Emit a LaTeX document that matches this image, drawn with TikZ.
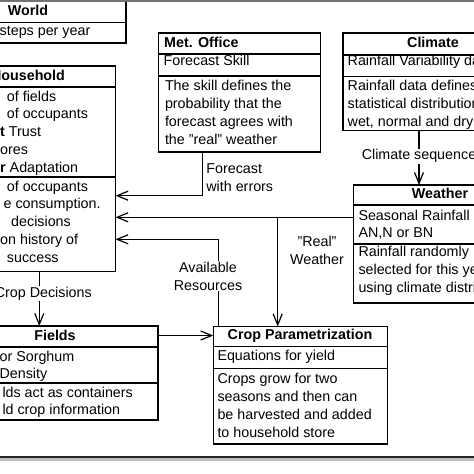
\documentclass[tikz,border=0pt]{standalone}
\usepackage{fontspec}
\setmainfont{Liberation Sans}
\usetikzlibrary{arrows.meta}

\begin{document}
\begin{tikzpicture}[x=1pt, y=-1pt,
  every node/.style={font=\fontsize{14.3}{17.8}\selectfont},
  box/.style={draw, line width=1.2pt, anchor=north west, inner sep=0pt, outer sep=0pt},
  ttl/.style={anchor=base, inner sep=0pt, font=\fontsize{14.3}{17.8}\selectfont\bfseries},
  txt/.style={anchor=north west, align=left, inner sep=0pt},
  lbl/.style={fill=white, inner sep=1pt, align=center},
  arr/.style={line width=1.2pt, -{Straight Barb[length=11pt, width=9pt]}}]
\useasboundingbox (0,0) rectangle (474,474);
\clip (0,0) rectangle (474,474);

\node[box, minimum width=196pt, minimum height=42pt] (world) at (-70,1) {};
\node[box, minimum width=162pt, minimum height=119pt] (met) at (158.3,33) {};
\node[box, minimum width=180pt, minimum height=97.7pt] (climate) at (343,33) {};
\node[box, minimum width=174pt, minimum height=118pt] (weather) at (353.5,185) {};
\node[box, minimum width=175.5pt, minimum height=205.3pt] (house) at (-60,66) {};
\node[box, minimum width=206pt, minimum height=94pt] (fields) at (-48,326) {};
\node[box, minimum width=174pt, minimum height=117.5pt] (crop) at (213.3,326.5) {};

\draw[line width=1.2pt] (-70,22.7) -- (126,22.7);
\draw[line width=1.2pt] (158.3,54) -- (320.3,54);
\draw[line width=1.2pt] (158.3,76) -- (320.3,76);
\draw[line width=1.2pt] (343,55) -- (523,55);
\draw[line width=1.2pt] (343,76.7) -- (523,76.7);
\draw[line width=1.2pt] (353.5,205) -- (527.5,205);
\draw[line width=1.2pt] (353.5,244) -- (527.5,244);
\draw[line width=1.2pt] (-60,87) -- (115.5,87);
\draw[line width=1.2pt] (-60,177) -- (115.5,177);
\draw[line width=1.2pt] (-48,347) -- (158,347);
\draw[line width=1.2pt] (-48,383) -- (158,383);
\draw[line width=1.2pt] (213.3,346.5) -- (387.3,346.5);
\draw[line width=1.2pt] (213.3,368.5) -- (387.3,368.5);

\node[ttl] (world-t) at (28,15) {World};
\node[txt] (world-a) at (-0.5,25.6) {steps per year};

\node[ttl, anchor=base west] (met-t) at (164,47) {Met. Office};
\node[txt] (met-a) at (163.5,54.9) {Forecast Skill};
\node[txt] (met-b) at (164.8,80.3) {The skill defines the\\probability that the\\forecast agrees with\\the "real" weather};

\node[ttl] (climate-t) at (433,47) {Climate};
\node[txt] (climate-a) at (347.5,55.1) {Rainfall Variability data};
\node[txt] (climate-b) at (347.5,80.3) {Rainfall data defines\\statistical distribution\\wet, normal and dry};

\node[ttl] (weather-t) at (440,198.5) {Weather};
\node[txt] (weather-a) at (358.3,209.6) {Seasonal Rainfall\\AN,N or BN};
\node[txt] (weather-b) at (358.3,246.3) {Rainfall randomly\\selected for this year\\using climate distribution};

\node[ttl] (house-t) at (28,80.3) {Household};
\node[txt] (house-a) at (0,90.6) {\hspace*{6.7pt}of fields\\\hspace*{6.7pt}of occupants\\\textbf{t} Trust\\ores\\\textbf{r} Adaptation};
\node[txt] (house-b) at (0,180.6) {\hspace*{6.7pt}of occupants\\\hspace*{3.4pt}e consumption.\\\hspace*{11pt}decisions\\on history of\\\hspace*{6.7pt}success};

\node[ttl] (fields-t) at (55,340) {Fields};
\node[txt] (fields-a) at (-0.6,350.6) {or Sorghum\\Density};
\node[txt] (fields-b) at (2.3,386.6) {lds act as containers\\ld crop information};

\node[ttl] (crop-t) at (300,339) {Crop Parametrization};
\node[txt] (crop-a) at (217.3,350.3) {Equations for yield};
\node[txt] (crop-b) at (217.3,373.3) {Crops grow for two\\seasons and then can\\be harvested and added\\to household store};

\coordinate (fc) at (202.7,195.7);
\coordinate (rw) at (277.7,217.3);
\coordinate (ar) at (218.3,239.3);
\coordinate (cs) at (419,0);
\coordinate (cd) at (39.3,0);
\coordinate (fk) at (0,335.5);

\draw[arr] (met.south -| fc) |- (house.east |- fc);
\draw[arr] (weather.west |- rw) -- (house.east |- rw);
\draw[arr] (rw) -- (crop.north -| rw);
\draw[arr] (crop.north -| ar) |- (house.east |- ar);
\draw[arr] (climate.south -| cs) -- (weather.north -| cs) node[lbl, pos=0.47] (cs-l) {Climate sequence};
\draw[arr] (house.south -| cd) -- (fields.north -| cd) node[lbl, pos=0.406, xshift=4pt] (cd-l) {Crop Decisions};
\draw[arr] (fields.east |- fk) -- (crop.west |- fk);

\node[lbl, anchor=west, align=left] (fc-l) at (205.2,177.8) {Forecast\\with errors};
\node[lbl] (ar-l) at (208,276) {Available\\Resources};
\node[lbl] (rw-l) at (317,250) {"Real"\\Weather};

\draw[black!55, line width=3.4pt] (-5,0) -- (480,0);
\draw[black!25, line width=3pt] (-5,459.5) -- (480,459.5);
\draw[black!85, line width=1.6pt] (-5,457) -- (480,457);
\end{tikzpicture}
\end{document}
